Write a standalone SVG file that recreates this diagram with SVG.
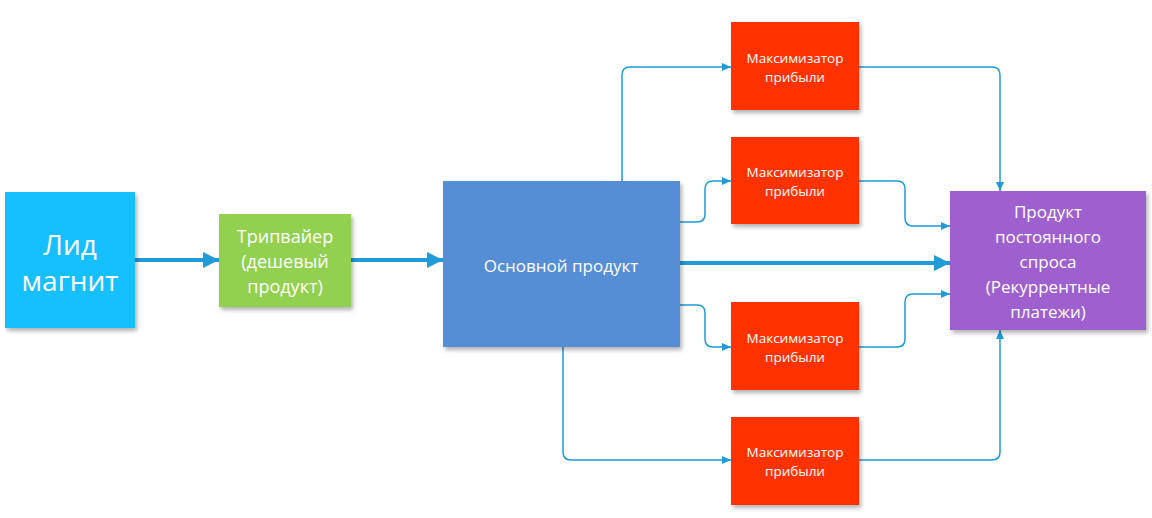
<svg xmlns="http://www.w3.org/2000/svg" width="1152" height="518" viewBox="0 0 1152 518">
<defs>
<filter id="sh" x="-10%" y="-10%" width="130%" height="130%">
<feDropShadow dx="2" dy="3" stdDeviation="2" flood-color="#000" flood-opacity="0.3"/>
</filter>
<marker id="ah" markerWidth="10" markerHeight="10" refX="9" refY="5" orient="auto" markerUnits="userSpaceOnUse">
<path d="M0,1 L9,5 L0,9 Z" fill="#1F9BD7"/>
</marker>
<marker id="ahb" markerWidth="18" markerHeight="18" refX="16" refY="8" orient="auto" markerUnits="userSpaceOnUse">
<path d="M0,0 L16,8 L0,16 Z" fill="#1F9BD7"/>
</marker>
<style>
text{font-family:"Open Sans","Noto Sans","Liberation Sans",sans-serif;fill:#fff;text-anchor:middle}
.thin{fill:none;stroke:#1F9BD7;stroke-width:1.5;marker-end:url(#ah)}
.thick{fill:none;stroke:#1F9BD7;stroke-width:4;marker-end:url(#ahb)}
.red{fill:#FF3300;filter:url(#sh)}
.rt{font-size:13.5px}
</style>
</defs>
<rect width="1152" height="518" fill="#fff"/>
<g id="connectors">
<path class="thick" d="M135,260 H219"/>
<path class="thick" d="M351,260 H443"/>
<path class="thick" d="M680,263 H950"/>
<path class="thin" d="M622,181 V75 Q622,67 630,67 H731"/>
<path class="thin" d="M680,222 H697 Q705,222 705,214 V189 Q705,181 713,181 H731"/>
<path class="thin" d="M859,67 H992 Q1000,67 1000,75 V191"/>
<path class="thin" d="M859,181 H897 Q905,181 905,189 V218 Q905,226 913,226 H950"/>
<path class="thin" d="M680,305 H697 Q705,305 705,313 V339 Q705,347 713,347 H731"/>
<path class="thin" d="M859,347 H897 Q905,347 905,339 V302 Q905,294 913,294 H950"/>
<path class="thin" d="M563,347 V452 Q563,460 571,460 H731"/>
<path class="thin" d="M859,460 H992 Q1000,460 1000,452 V330"/>
</g>
<g id="lead">
<rect x="5" y="192" width="130" height="136" fill="#19BFFE" filter="url(#sh)"/>
<text x="70" y="255" font-size="28">Лид</text>
<text x="70" y="291" font-size="28">магнит</text>
</g>
<g id="tripwire">
<rect x="219" y="214" width="132" height="93" fill="#92D050" filter="url(#sh)"/>
<text x="285" y="243" font-size="18">Трипвайер</text>
<text x="285" y="268" font-size="18">(дешевый</text>
<text x="285" y="293" font-size="18">продукт)</text>
</g>
<g id="main">
<rect x="443" y="181" width="237" height="166" fill="#558ED5" filter="url(#sh)"/>
<text x="561" y="272" font-size="17">Основной продукт</text>
</g>
<g id="max1">
<rect class="red" x="731" y="22" width="128" height="88"/>
<text class="rt" x="795" y="63">Максимизатор</text>
<text class="rt" x="795" y="82">прибыли</text>
</g>
<g id="max2">
<rect class="red" x="731" y="137" width="128" height="87"/>
<text class="rt" x="795" y="177">Максимизатор</text>
<text class="rt" x="795" y="196">прибыли</text>
</g>
<g id="max3">
<rect class="red" x="731" y="302" width="128" height="88"/>
<text class="rt" x="795" y="343">Максимизатор</text>
<text class="rt" x="795" y="362">прибыли</text>
</g>
<g id="max4">
<rect class="red" x="731" y="417" width="128" height="88"/>
<text class="rt" x="795" y="457">Максимизатор</text>
<text class="rt" x="795" y="476">прибыли</text>
</g>
<g id="recurring">
<rect x="950" y="191" width="196" height="139" fill="#9E61CF" filter="url(#sh)"/>
<text x="1048" y="218" font-size="17">Продукт</text>
<text x="1048" y="243" font-size="17">постоянного</text>
<text x="1048" y="268" font-size="17">спроса</text>
<text x="1048" y="293" font-size="17">(Рекуррентные</text>
<text x="1048" y="318" font-size="17">платежи)</text>
</g>
</svg>
